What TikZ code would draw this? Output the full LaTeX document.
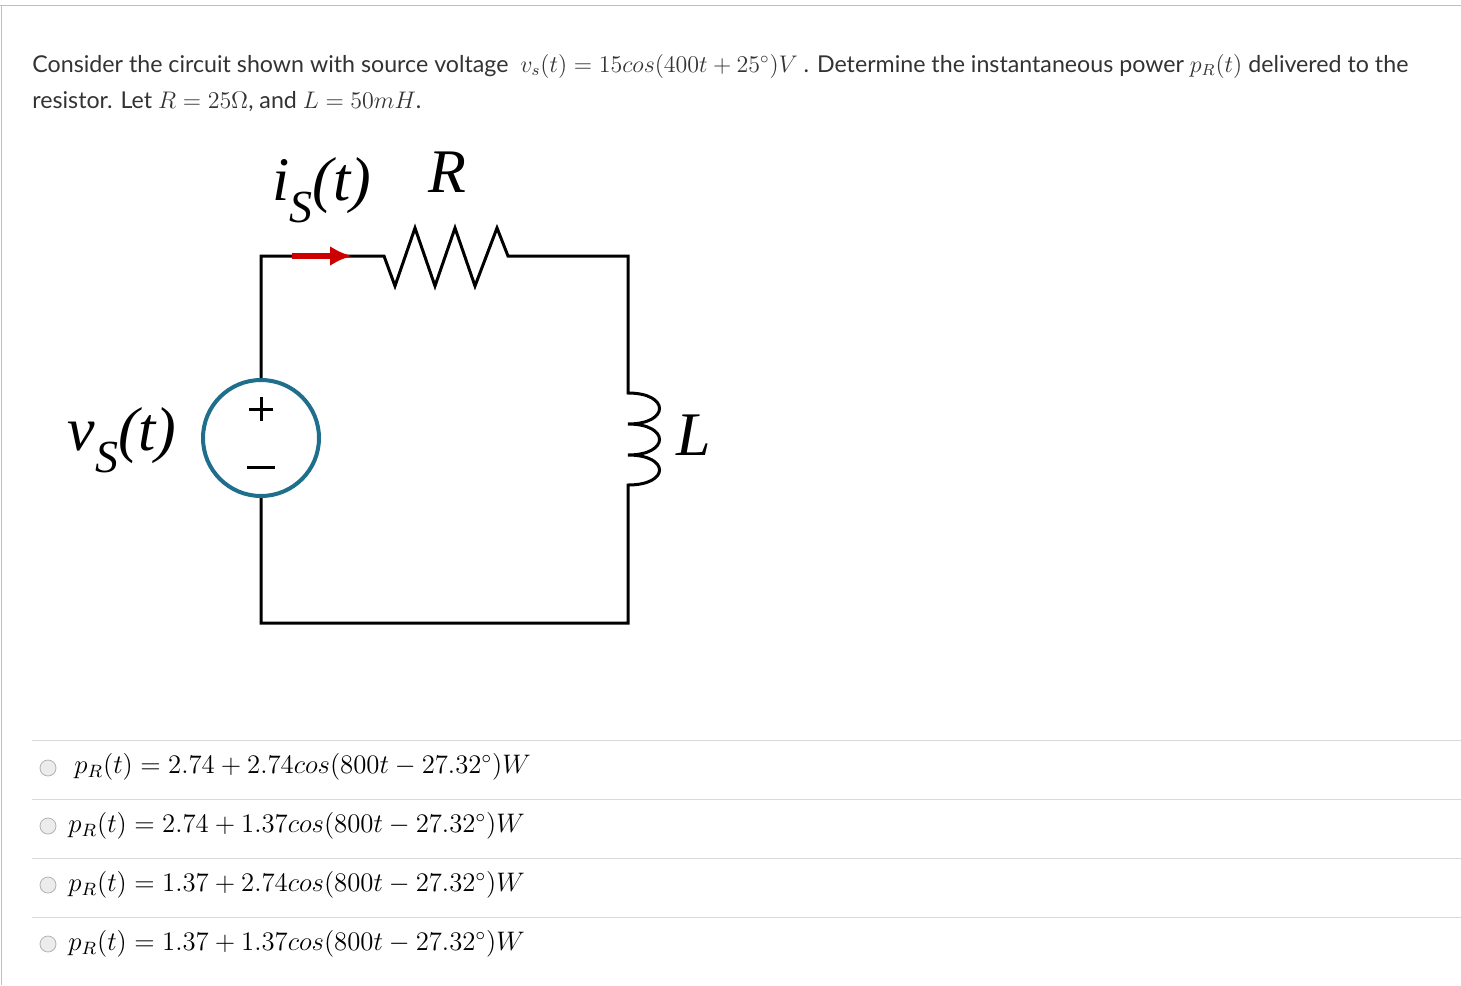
\documentclass[tikz,border=0pt]{standalone}
\usepackage{fontspec}
\setmainfont{Lato}
\newfontfamily\labfont{Liberation Serif}[UprightFont=* Italic]
\usetikzlibrary{arrows.meta}
\newcommand{\subS}{\raisebox{-11pt}{\fontsize{23}{25}\selectfont S}}
\newcommand{\optx}[1]{\scalebox{1.116}{$#1$}}
\begin{document}
\begin{tikzpicture}[x=0.5pt,y=-0.5pt,
  wire/.style={line width=1.5pt,black,line join=miter},
  rule/.style={draw=gray!30,line width=0.5pt},
  radio/.style={circle,draw=gray!60,fill=gray!15,minimum size=8pt,inner sep=0pt},
  qtext/.style={anchor=west,inner sep=0pt,font=\fontsize{11.6}{13}\selectfont,text=black!80},
  opt/.style={anchor=west,inner sep=0pt,font=\fontsize{12}{14}\selectfont},
  big/.style={inner sep=0pt,font=\labfont\fontsize{31}{33}\selectfont}]
\useasboundingbox (0,0) rectangle (1461,985);
\draw[rule,draw=gray!50] (0,5) -- (1461,5);
\draw[rule,draw=gray!50] (1,5) -- (1,985);
\node[qtext] (q1) at (32,66) {Consider the circuit shown with source voltage \ $v_s(t)=15cos(400t+25^\circ)V$ . Determine the instantaneous power $p_R(t)$ delivered to the};
\node[qtext] (q2) at (32,102) {resistor. Let $R=25\Omega$, and $L=50mH$.};
% circuit
\coordinate (tl) at (261,256); \coordinate (tr) at (628,256);
\coordinate (bl) at (261,623); \coordinate (br) at (628,623);
\coordinate (r1) at (384,256); \coordinate (r2) at (508,256);
\coordinate (l1) at (628,393); \coordinate (l2) at (628,485);
\node[circle,draw={rgb,255:red,30;green,110;blue,140},line width=2pt,minimum size=58pt,inner sep=0pt] (src) at (261,438) {};
\draw[wire] (src.north) -- (tl) -- (r1)
  -- (395,286) -- (415,228) -- (435,286) -- (455,228) -- (475,286) -- (497,228) -- (r2) -- (tr) -- (l1)
  .. controls (670,393) and (670,424) .. (628,424)
  .. controls (670,424) and (670,455) .. (628,455)
  .. controls (670,455) and (670,485) .. (l2)
  -- (br) -- (bl) -- (src.south);
\draw[line width=1.5pt] (261,397) -- (261,421) (249,409) -- (273,409);
\draw[line width=1.5pt] (247,467) -- (275,467);
\coordinate (a1) at (292,256); \coordinate (a2) at (352,256);
\draw[red!80!black,line width=2.8pt,-{Latex[length=11pt,width=10pt]}] (a1) -- (a2);
\node[big] (is) at (322,190) {i\subS(t)};
\node[big] (R) at (447,172) {R};
\node[big] (vs) at (122,440) {v\subS(t)};
\node[big] (L) at (694,435) {L};
% options
\foreach \y in {740,799,858,917} \draw[rule] (32,\y) -- (1461,\y);
\node[radio] (c1) at (48,768) {};
\node[radio] (c2) at (48,826) {};
\node[radio] (c3) at (48,885) {};
\node[radio] (c4) at (48,944) {};
\node[opt] (o1) at (74,767) {\optx{p_R(t)=2.74+2.74cos(800t-27.32^\circ)W}};
\node[opt] (o2) at (68,826) {\optx{p_R(t)=2.74+1.37cos(800t-27.32^\circ)W}};
\node[opt] (o3) at (68,885) {\optx{p_R(t)=1.37+2.74cos(800t-27.32^\circ)W}};
\node[opt] (o4) at (68,944) {\optx{p_R(t)=1.37+1.37cos(800t-27.32^\circ)W}};
\end{tikzpicture}
\end{document}
